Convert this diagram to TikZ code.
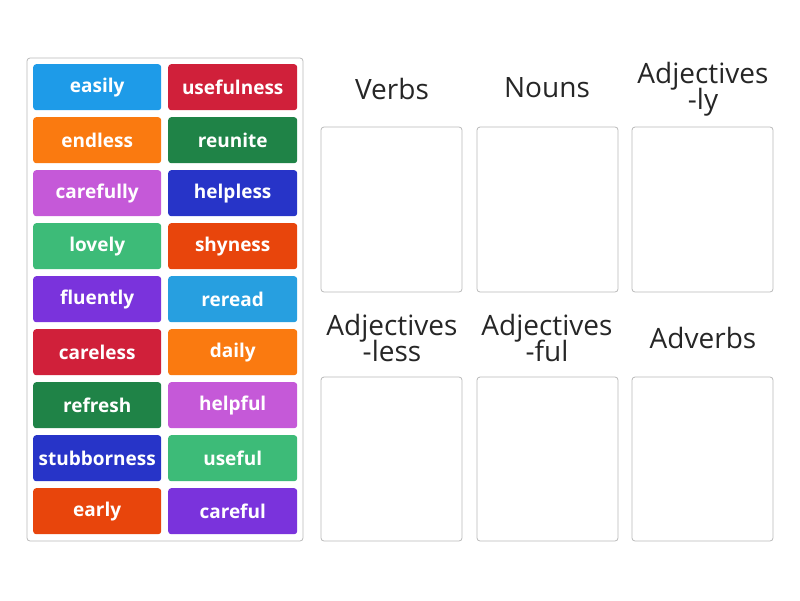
\documentclass[tikz,border=0pt]{standalone}
\usepackage{fontspec}
\setmainfont{Open Sans}
\definecolor{cA}{HTML}{1E9BE8}
\definecolor{cB}{HTML}{D0203A}
\definecolor{cC}{HTML}{FA7A10}
\definecolor{cD}{HTML}{1F8347}
\definecolor{cE}{HTML}{C559D8}
\definecolor{cF}{HTML}{2734C8}
\definecolor{cG}{HTML}{3DBB78}
\definecolor{cH}{HTML}{E8450C}
\definecolor{cI}{HTML}{7A33DC}
\definecolor{cJ}{HTML}{279FE0}
\begin{document}
\begin{tikzpicture}[x=1pt,y=-1pt,
  tile/.style={rounded corners=3pt,minimum width=128pt,minimum height=46pt,text=white,font=\bfseries\fontsize{19}{20}\selectfont,inner sep=0pt,anchor=north west},
  drop/.style={draw=gray!55,rounded corners=3pt,line width=0.8pt},
  head/.style={font=\fontsize{28}{32}\selectfont,align=center,text=black!85}]
\useasboundingbox (0,0) rectangle (800,600);
\draw[drop] (27,58) rectangle (303,541);
\def\rows{{"easily","cA","usefulness","cB"},{"endless","cC","reunite","cD"}}
\foreach \i/\la/\ca/\lb/\cb in {0/easily/cA/usefulness/cB,1/endless/cC/reunite/cD,2/carefully/cE/helpless/cF,3/lovely/cG/shyness/cH,4/fluently/cI/reread/cJ,5/careless/cB/daily/cC,6/refresh/cD/helpful/cE,7/stubborness/cF/useful/cG,8/early/cH/careful/cI}{
  \node[tile,fill=\ca] (l\i) at (33,64+53*\i) {\la};
  \node[tile,fill=\cb,minimum width=129pt] (r\i) at (168,64+53*\i) {\lb};
}
\foreach \x/\n in {321/a,477/b,632/c}{
  \draw[drop] (\x,127) rectangle ++(141,165);
  \draw[drop] (\x,377) rectangle ++(141,164);
}
\node[head] (h1) at (392,89) {Verbs};
\node[head] (h2) at (547,88) {Nouns};
\node[head] (h3) at (703,89) {Adjectives\\[-6pt]-ly};
\node[head] (h4) at (392,338) {Adjectives\\[-6pt]-less};
\node[head] (h5) at (547,338) {Adjectives\\[-6pt]-ful};
\node[head] (h6) at (703,338) {Adverbs};
\end{tikzpicture}
\end{document}
